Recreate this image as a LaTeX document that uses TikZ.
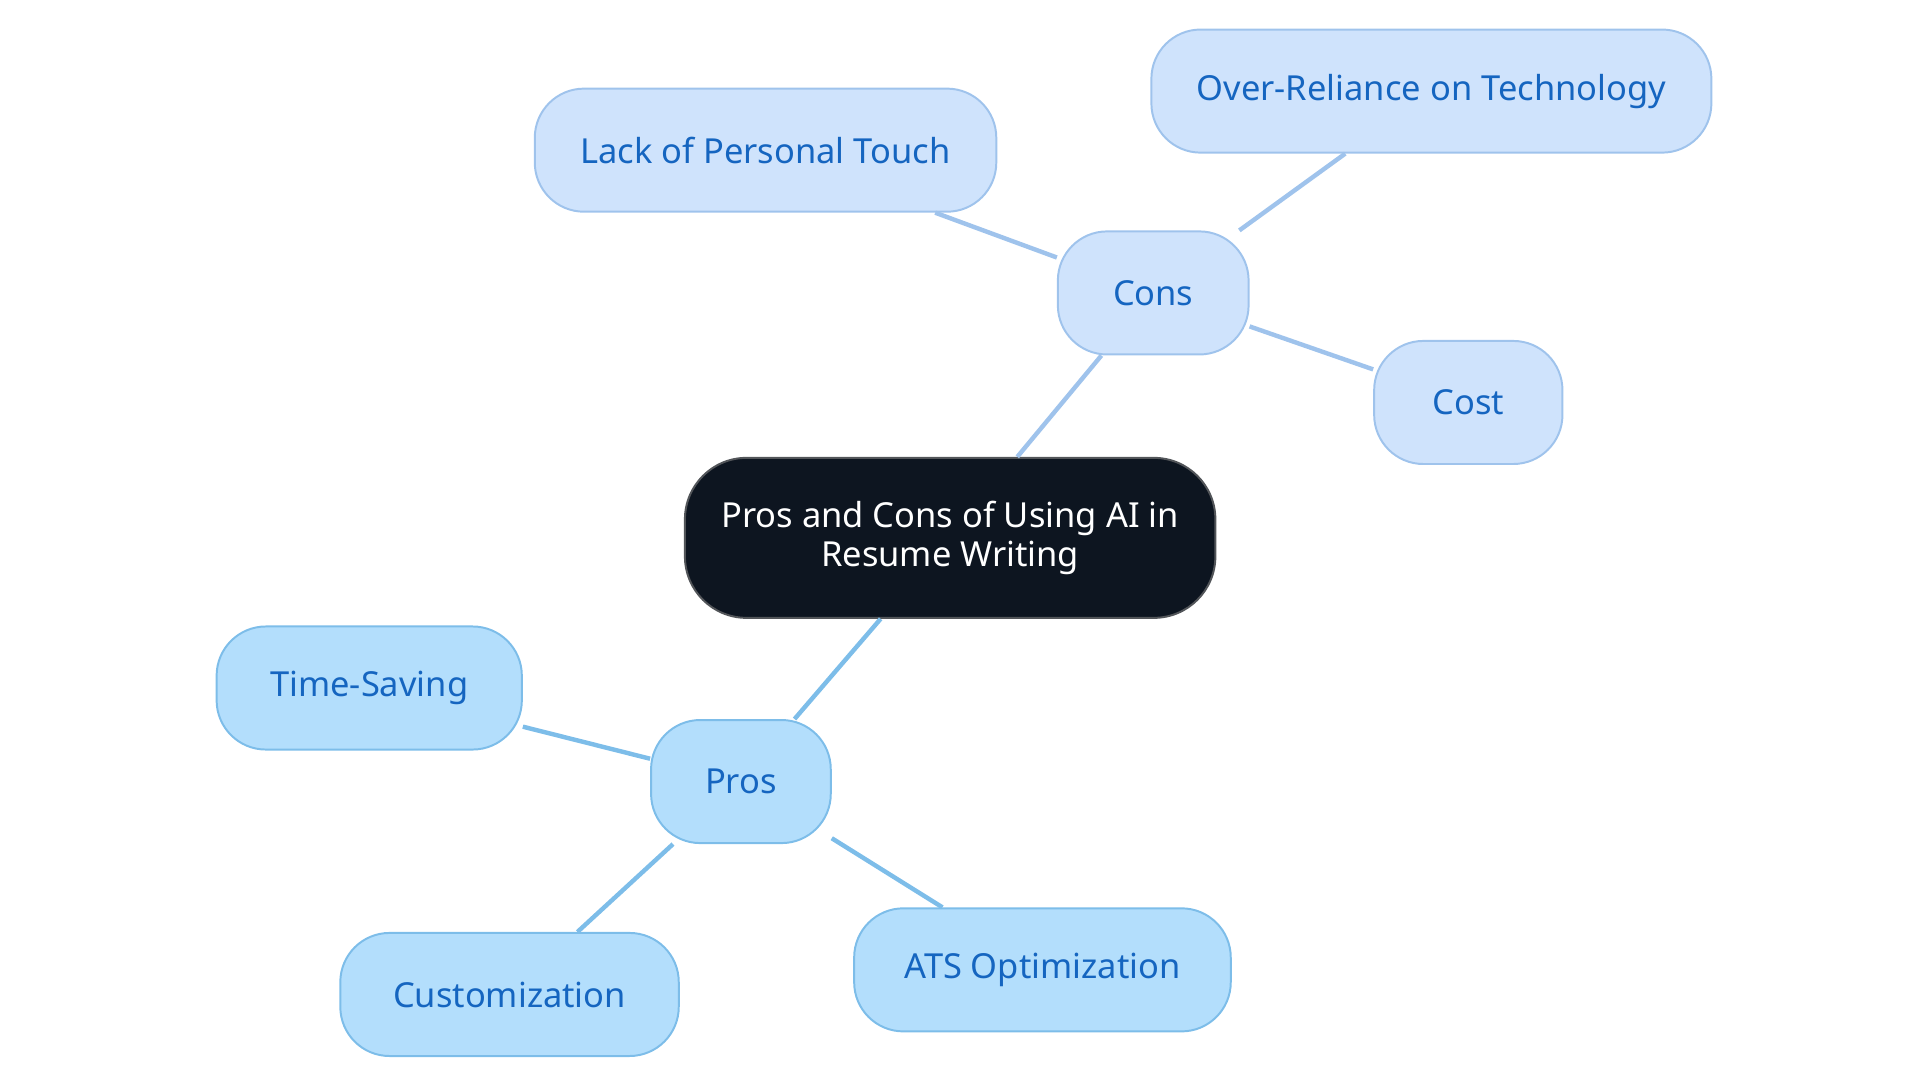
\documentclass[tikz,border=0pt]{standalone}
\usepackage{fontspec}
\setmainfont{Noto Sans}
\begin{document}
\begin{tikzpicture}[x=0.5pt,y=-0.5pt,
 base/.style={rounded corners=20pt,minimum height=50pt,line width=0.8pt,align=center,font=\fontsize{14}{16}\selectfont,inner sep=0pt},
 con/.style={base,fill=consf,draw=consd,text=txt},
 pro/.style={base,fill=prof,draw=prod,text=txt},
 cl/.style={draw=consd,line width=1.8pt},
 pl/.style={draw=prod,line width=1.8pt}]
\definecolor{consf}{HTML}{CFE3FC}\definecolor{consd}{HTML}{9FC3EC}
\definecolor{prof}{HTML}{B3DEFC}\definecolor{prod}{HTML}{7DBDE9}
\definecolor{txt}{HTML}{1565C0}\definecolor{dark}{HTML}{0D1520}
\useasboundingbox (0,0) rectangle (1560,880);
\node[base,fill=dark,draw=gray!60!dark,text=white,minimum width=215.5pt,minimum height=65pt,rounded corners=25pt] (c) at (772,437) {Pros and Cons of Using AI in\\Resume Writing};
\node[con,minimum width=77.5pt] (cons) at (937,238) {Cons};
\node[con,minimum width=187.5pt] (lack) at (622,122) {Lack of Personal Touch};
\node[con,minimum width=227.5pt] (over) at (1163,74) {Over-Reliance on Technology};
\node[con,minimum width=76.5pt] (cost) at (1193,327) {Cost};
\node[pro,minimum width=73pt] (pros) at (602,635) {Pros};
\node[pro,minimum width=124pt] (time) at (300,559) {Time-Saving};
\node[pro,minimum width=137.5pt] (cust) at (414,808) {Customization};
\node[pro,minimum width=153pt] (ats) at (847,788) {ATS Optimization};
\begin{scope}[on background layer/.try]
\end{scope}
\draw[cl] (c) -- (cons);
\draw[cl] (cons) -- (lack);
\draw[cl] (cons) -- (over);
\draw[cl] (cons) -- (cost);
\draw[pl] (c) -- (pros);
\draw[pl] (pros) -- (time);
\draw[pl] (pros) -- (cust);
\draw[pl] (pros) -- (ats);
\end{tikzpicture}
\end{document}
